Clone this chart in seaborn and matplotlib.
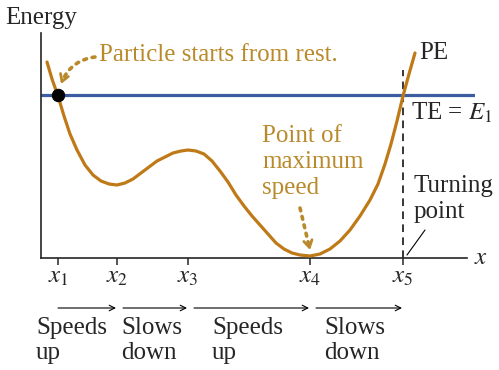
import numpy as np
import matplotlib
matplotlib.use("Agg")
import matplotlib.pyplot as plt
import seaborn as sns

# potential energy curve (x position, energy)
pe_x = [47, 52, 58, 64, 70, 77, 85, 93, 101, 109, 117, 125, 133, 141, 149,
        157, 165, 173, 181, 188, 196, 204, 212, 220, 228, 236, 244, 252, 260,
        268, 276, 284, 292, 300, 310, 320, 330, 340, 350, 360, 370, 378, 385,
        391, 397, 403, 409, 415]
pe_E = [196, 179, 162, 142, 124, 108, 93, 83, 77, 74, 73, 75, 79, 85, 91,
        97, 101, 105, 107, 108, 107, 104, 97, 87, 76, 63, 52, 42, 33,
        24, 15, 9, 5, 3, 2, 4, 9, 17, 28, 42, 58, 74, 94,
        114, 137, 162, 184, 205]
te_E = 163
x_ticks = [58, 117, 188, 310, 403]
x_labels = [r"$x_1$", r"$x_2$", r"$x_3$", r"$x_4$", r"$x_5$"]
segments = ["Speeds\nup", "Slows\ndown", "Speeds\nup", "Slows\ndown"]

sns.set_style("white")
plt.rcParams["font.family"] = ["Liberation Serif", "DejaVu Serif"]
plt.rcParams["mathtext.fontset"] = "stix"

curve_c = "#bf7a17"
text_c = "#b98a2c"
te_c = "#3d5da3"
fs = 18
dots = (0, (0.8, 1.6))


def dotted_arrow(ax, tail, tip, tip_from, rad=0.0):
    # dotted shaft plus a small solid V head
    ax.annotate("", xy=tip, xytext=tail,
                arrowprops=dict(arrowstyle="-", color=text_c, lw=2.6, ls=dots,
                                connectionstyle=f"arc3,rad={rad}",
                                shrinkA=0, shrinkB=3))
    ax.annotate("", xy=tip, xytext=tip_from,
                arrowprops=dict(arrowstyle="->,head_length=0.5,head_width=0.3",
                                color=text_c, lw=2.0, shrinkA=0, shrinkB=0))


fig = plt.figure(figsize=(4.99, 3.70), dpi=100)
ax = fig.add_axes([41 / 499, 112 / 370, 434 / 499, 225 / 370])
ax.set_xlim(41, 475)
ax.set_ylim(0, 225)

# total energy line and PE curve
ax.axhline(te_E, color=te_c, lw=2.3, zorder=2)
sns.lineplot(x=pe_x, y=pe_E, sort=False, color=curve_c, lw=2.3, ax=ax, zorder=3)
sns.scatterplot(x=[x_ticks[0]], y=[te_E], color="black", s=80, ax=ax, zorder=4,
                edgecolor="black")

# turning point
ax.vlines(x_ticks[4], 0, 188, colors="black", linestyles=(0, (5, 3.5)), lw=1.1)

# axes
sns.despine(ax=ax)
ax.spines["left"].set_linewidth(1.2)
ax.spines["bottom"].set_linewidth(1.2)
ax.spines["bottom"].set_bounds(41, 467)
ax.set_yticks([])
ax.set_xticks(x_ticks, x_labels, fontsize=fs)
ax.tick_params(axis="x", direction="out", length=5, width=1.1, pad=1,
               bottom=True)

ax.text(5, 234, "Energy", fontsize=fs, va="baseline", ha="left", clip_on=False)
ax.text(474, 0, r"$x$", fontsize=fs, va="center", ha="left")
ax.text(419, 205, "PE", fontsize=fs, va="center", ha="left")
ax.text(411, 145, "TE = $E_1$", fontsize=fs, va="center", ha="left")
ax.text(414, 59, "Turning\npoint", fontsize=fs, va="center", ha="left",
        linespacing=1.2)
ax.plot([425, 407], [28, 3], color="black", lw=0.8)

ax.text(99, 203, "Particle starts from rest.", fontsize=fs, color=text_c,
        va="center", ha="left")
dotted_arrow(ax, (95, 201), (61, 174), (62.6, 178.2), rad=0.3)
ax.text(262, 96, "Point of\nmaximum\nspeed", fontsize=fs, color=text_c,
        va="center", ha="left", linespacing=1.25)
dotted_arrow(ax, (300, 50), (310, 8), (309, 12.5))

# speed segments below the axis
label_x = [36, 121, 212, 324]
for i, lab in enumerate(segments):
    start = x_ticks[i] + (0 if i == 0 else 6)
    ax.annotate("", xy=(x_ticks[i + 1] - 1, -50), xytext=(start, -50),
                annotation_clip=False,
                arrowprops=dict(arrowstyle="->", color="black", lw=0.8,
                                shrinkA=0, shrinkB=0))
    ax.text(label_x[i], -59, lab, fontsize=fs, va="top", ha="left",
            linespacing=1.2, clip_on=False)

fig.savefig("out.png", dpi=100)
